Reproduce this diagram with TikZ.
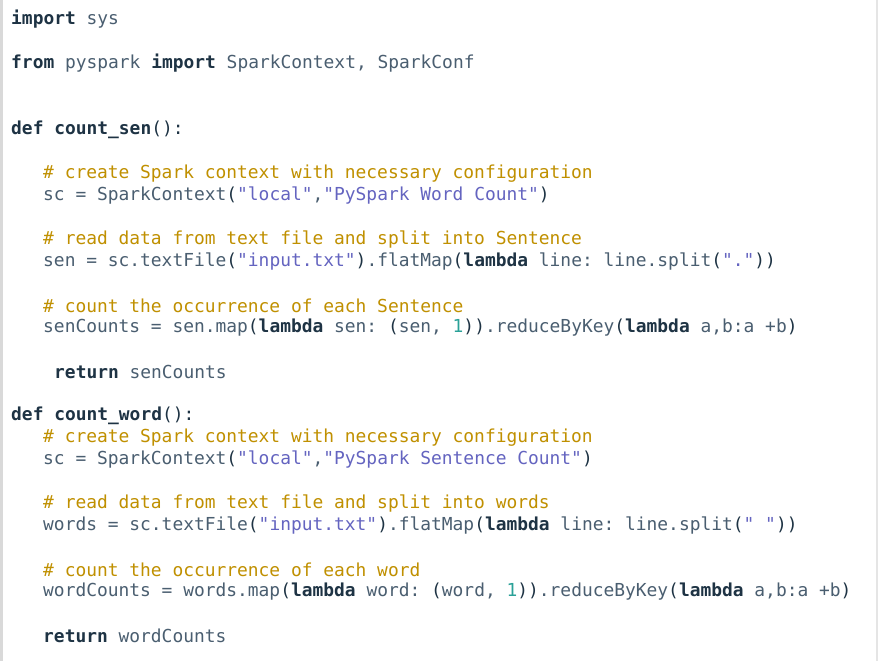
\documentclass[tikz,border=0pt]{standalone}
\usepackage{fontspec}
\setmonofont{DejaVu Sans Mono}
\definecolor{txt}{HTML}{4A5E70}
\definecolor{kw}{HTML}{1E3344}
\definecolor{cm}{HTML}{C09000}
\definecolor{st}{HTML}{6464C0}
\definecolor{nm}{HTML}{2AA198}
\newcommand{\myK}[1]{\textbf{\color{kw}#1}}
\newcommand{\myC}[1]{{\color{cm}#1}}
\newcommand{\myS}[1]{{\color{st}#1}}
\newcommand{\myN}[1]{{\color{nm}#1}}
\newcommand{\myP}[1]{{\color{kw}#1}}
\begin{document}
\begin{tikzpicture}[x=1pt,y=-1pt,
  code/.style={anchor=west,inner sep=0pt,font=\fontsize{17.9}{20}\selectfont\ttfamily,text=txt}]
\useasboundingbox (0,0) rectangle (881,661);
\fill[white] (0,0) rectangle (881,661);
\fill[black!15] (0,0) rectangle (2.5,661);
\fill[black!10] (876,0) rectangle (878,661);
\def\L#1{19.5+22*#1}
\node[code] (l0) at (11,{\L{0}}) {\myK{import} sys};
\node[code] (l2) at (11,{\L{2}}) {\myK{from} pyspark \myK{import} SparkContext, SparkConf};
\node[code] (l5) at (11,{\L{5}}) {\myK{def} \myK{count\_sen}\myP{():}};
\node[code] (l7) at (43,{\L{7}}) {\myC{\# create Spark context with necessary configuration}};
\node[code] (l8) at (43,{\L{8}}) {sc = SparkContext\myP{(}\myS{"local"},\myS{"PySpark Word Count"}\myP{)}};
\node[code] (l10) at (43,{\L{10}}) {\myC{\# read data from text file and split into Sentence}};
\node[code] (l11) at (43,{\L{11}}) {sen = sc.textFile\myP{(}\myS{"input.txt"}\myP{)}.flatMap\myP{(}\myK{lambda} line: line.split\myP{(}\myS{"."}\myP{))}};
\node[code] (l13) at (43,{\L{13}}) {\myC{\# count the occurrence of each Sentence}};
\node[code] (l14) at (43,{\L{14}}) {senCounts = sen.map\myP{(}\myK{lambda} sen: \myP{(}sen, \myN{1}\myP{))}.reduceByKey\myP{(}\myK{lambda} a,b:a +b\myP{)}};
\node[code] (l16) at (54,{\L{16}}) {\myK{return} senCounts};
\node[code] (l18) at (11,{\L{18}}) {\myK{def} \myK{count\_word}\myP{():}};
\node[code] (l19) at (43,{\L{19}}) {\myC{\# create Spark context with necessary configuration}};
\node[code] (l20) at (43,{\L{20}}) {sc = SparkContext\myP{(}\myS{"local"},\myS{"PySpark Sentence Count"}\myP{)}};
\node[code] (l22) at (43,{\L{22}}) {\myC{\# read data from text file and split into words}};
\node[code] (l23) at (43,{\L{23}}) {words = sc.textFile\myP{(}\myS{"input.txt"}\myP{)}.flatMap\myP{(}\myK{lambda} line: line.split\myP{(}\myS{" "}\myP{))}};
\node[code] (l25) at (43,{\L{25}}) {\myC{\# count the occurrence of each word}};
\node[code] (l26) at (43,{\L{26}}) {wordCounts = words.map\myP{(}\myK{lambda} word: \myP{(}word, \myN{1}\myP{))}.reduceByKey\myP{(}\myK{lambda} a,b:a +b\myP{)}};
\node[code] (l28) at (43,{\L{28}}) {\myK{return} wordCounts};
\end{tikzpicture}
\end{document}
